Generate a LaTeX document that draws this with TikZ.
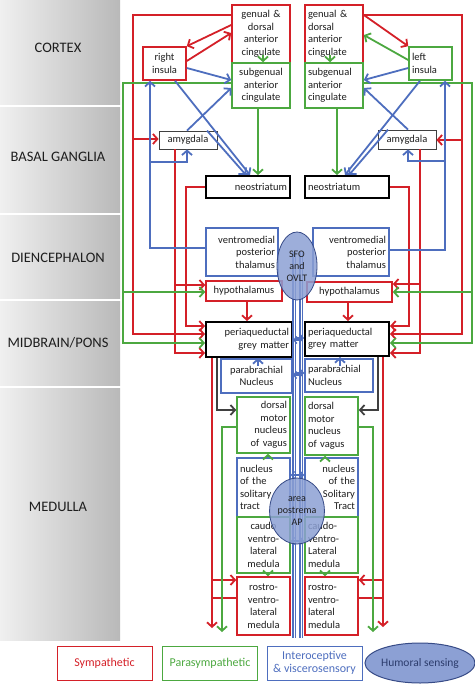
\documentclass[tikz,border=0pt]{standalone}
\usepackage{fontspec}
\setmainfont{Carlito}
\usetikzlibrary{arrows.meta,shapes.geometric}
\definecolor{colRed}{RGB}{212,32,40}
\definecolor{colGrn}{RGB}{76,168,64}
\definecolor{colBlu}{RGB}{78,110,190}
\definecolor{colDk}{RGB}{64,64,64}
\definecolor{colEl}{RGB}{140,160,212}
\definecolor{colEd}{RGB}{55,75,135}
\definecolor{colTxt}{RGB}{30,30,30}
\newcommand{\mkbox}[8]{%
 \pgfmathsetmacro\mbx{(#2+#4)/2}%
 \pgfmathsetmacro\mby{(#3+#5)/2}%
 \pgfmathsetmacro\mbw{#4-#2}%
 \pgfmathsetmacro\mbh{#5-#3}%
 \pgfmathsetmacro\mbt{#4-#2-6}%
 \node[bx,#6,minimum width=\mbw pt,minimum height=\mbh pt,text width=\mbt pt,align=#7] (#1) at (\mbx,\mby) {#8};}
\begin{document}
\begin{tikzpicture}[x=1pt,y=-1pt,
  >={Straight Barb[length=4.5pt,width=10pt]},
  bx/.style={draw,fill=white,line width=1.6pt,inner xsep=3pt,inner ysep=0pt,text=colTxt,font=\fontsize{10.5}{12.5}\selectfont},
  ln/.style={line width=1.8pt,->},
  rd/.style={ln,draw=colRed},
  gn/.style={ln,draw=colGrn},
  bl/.style={ln,draw=colBlu},
  gy/.style={ln,draw=colDk},
  sm/.style={line width=1.3pt,draw=colBlu,->,>={Straight Barb[length=3pt,width=7pt]}},
  cen/.style={draw=colBlu,line width=1.4pt,double=white,double distance=0.8pt},
  band/.style={left color=gray!12,right color=gray!55,draw=none},
  blab/.style={font=\fontsize{14.5}{16}\selectfont,text=colTxt},
  leg/.style={draw,line width=1pt,minimum width=95pt,minimum height=34pt,align=center,font=\fontsize{12}{13.5}\selectfont}
]
\useasboundingbox (0,0) rectangle (474,687);
% bands
\foreach \ya/\yb in {0/105,108/212,215/298,301/385,388/640}{
  \shade[band] (0,\ya) rectangle (120,\yb);
}
\node[blab] (lc) at (58,48) {CORTEX};
\node[blab] (lb) at (58,157) {BASAL GANGLIA};
\node[blab] (ld) at (58,258) {DIENCEPHALON};
\node[blab] (lm) at (58,343) {MIDBRAIN/PONS};
\node[blab] (lmd) at (58,507) {MEDULLA};

% boxes
\mkbox{gL}{232}{5}{290}{63}{draw=colRed}{center}{genual \&\\dorsal\\anterior\\cingulate}
\mkbox{sL}{232}{63}{290}{108}{draw=colGrn}{center}{subgenual\\anterior\\cingulate}
\mkbox{iR}{143}{47}{186}{80}{draw=colRed}{center}{right\\insula}
\mkbox{gR}{305}{5}{363}{63}{draw=colRed}{left}{genual \&\\dorsal\\anterior\\cingulate}
\mkbox{sR}{305}{63}{363}{108}{draw=colGrn}{left}{subgenual\\anterior\\cingulate}
\mkbox{iL}{409}{47}{452}{80}{draw=colGrn}{left}{left\\insula}
\mkbox{aL}{159}{131}{217}{149}{draw=colDk,line width=0.8pt}{center}{amygdala}
\mkbox{aR}{378}{130}{436}{149}{draw=colDk,line width=0.8pt}{center}{amygdala}
\mkbox{nL}{206}{176}{290}{198}{draw=black,line width=2pt}{right}{neostriatum}
\mkbox{nR}{305}{176}{389}{198}{draw=black,line width=2pt}{left}{neostriatum}
\mkbox{tL}{206}{228}{278}{276}{draw=colBlu}{right}{ventromedial\\posterior\\thalamus}
\mkbox{tR}{313}{228}{389}{276}{draw=colBlu}{right}{ventromedial\\posterior\\thalamus}
\mkbox{hL}{206}{281}{282}{301}{draw=colRed}{center}{hypothalamus}
\mkbox{hR}{307}{282}{392}{302}{draw=colRed}{center}{hypothalamus}
\mkbox{pL}{206}{322}{292}{357}{draw=black,line width=2pt}{right}{periaqueductal\\grey matter}
\mkbox{pR}{305}{322}{389}{356}{draw=black,line width=2pt}{left}{periaqueductal\\grey matter}
\mkbox{bL}{221}{359}{292}{393}{draw=colBlu}{center}{parabrachial\\Nucleus}
\mkbox{bR}{305}{359}{373}{392}{draw=colBlu}{left}{parabrachial\\Nucleus}
\mkbox{dL}{237}{397}{290}{453}{draw=colGrn}{right}{dorsal\\motor\\nucleus\\of vagus}
\mkbox{dR}{305}{397}{358}{455}{draw=colGrn}{left}{dorsal\\motor\\nucleus\\of vagus}
\mkbox{nsL}{237}{458}{290}{517}{draw=colBlu}{left}{nucleus\\of the\\solitary\\tract}
\mkbox{nsR}{305}{458}{358}{517}{draw=colBlu}{right}{nucleus\\of the\\Solitary\\Tract}
\mkbox{cL}{237}{517}{290}{573}{draw=colGrn}{center}{caudo\\ventro-\\lateral\\medula}
\mkbox{cR}{305}{517}{358}{573}{draw=colGrn}{left}{caudo-\\ventro-\\Lateral\\medula}
\mkbox{rL}{237}{577}{290}{635}{draw=colRed}{center}{rostro-\\ventro-\\lateral\\medula}
\mkbox{rR}{305}{577}{358}{635}{draw=colRed}{left}{rostro-\\ventro-\\lateral\\medula}

% central blue lines
\coordinate (cb1) at (294,638);
\coordinate (ct1) at (294,252);
\coordinate (cb2) at (301,638);
\coordinate (ct2) at (301,252);
\draw[cen] (cb1) -- (ct1);
\draw[cen] (cb2) -- (ct2);

% red (sympathetic)
\draw[rd] (gL.west |- 0,15) -| (133,334) -- (pL.west |- 0,334);
\draw[rd] (133,139) -- (aL.west |- 0,139);
\draw[rd] (gL.west |- 0,25) -- (iR.north east);
\draw[rd] (iR.east |- 0,61) -- (gL.west |- 0,33);
\draw[rd] (aL.south -| 175,0) -- (175,353) -- (pL.west |- 0,353);
\draw[rd] (175,285) -- (hL.west |- 0,285);
\draw[rd] (nL.west |- 0,187) -| (186,326) -- (pL.west |- 0,326);
\draw[rd] (hL.south -| 247,0) -- (pL.north -| 247,0);
\draw[rd] (pL.south -| 212,0) -- (212,628);
\draw[rd] (212,580) -- (rL.west |- 0,580);
\draw[rd,-] (rL.west |- 0,598) -- (212,598);

\draw[rd] (gR.east |- 0,15) -| (462,334) -- (pR.east |- 0,334);
\draw[rd] (462,140) -- (aR.east |- 0,140);
\draw[rd] (gR.east |- 0,15) -- (iL.north west);
\draw[rd] (aR.south -| 420,0) -- (420,353) -- (pR.east |- 0,353);
\draw[rd] (420,284) -- (hR.east |- 0,284);
\draw[rd] (nR.east |- 0,187) -| (409,326) -- (pR.east |- 0,326);
\draw[rd] (hR.south -| 348,0) -- (pR.north -| 348,0);
\draw[rd] (pR.south -| 383,0) -- (383,627);
\draw[rd] (383,580) -- (rR.east |- 0,580);
\draw[rd,-] (rR.east |- 0,598) -- (383,598);

% green (parasympathetic)
\draw[gn] (sL.west |- 0,83) -| (123,343) -- (pL.west |- 0,343);
\draw[gn] (123,292) -- (hL.west |- 0,292);
\draw[gn] (sL.south -| 258,0) -- (nL.north -| 258,0);
\draw[gn] (263,55) -- (sL.north -| 263,0);
\draw[gn] (dL.west |- 0,427) -| (222,632);
\draw[gn] (nsL.north -| 268,0) -- (dL.south -| 268,0);
\draw[gn] (cL.south -| 268,0) -- (rL.north -| 268,0);

\draw[gn] (sR.east |- 0,83) -| (472,343) -- (pR.east |- 0,343);
\draw[gn] (472,292) -- (hR.east |- 0,292);
\draw[gn] (sR.south -| 337,0) -- (nR.north -| 337,0);
\draw[gn] (330,55) -- (sR.north -| 330,0);
\draw[gn] (iL.west |- 0,60) -- (gR.east |- 0,35);
\draw[gn] (dR.east |- 0,427) -| (373,632);
\draw[gn] (nsR.north -| 325,0) -- (dR.south -| 325,0);
\draw[gn] (cR.south -| 325,0) -- (rR.north -| 325,0);

% blue (interoceptive)
\draw[bl] (tL.west |- 0,248) -| (iR.south -| 150,0);
\draw[bl] (150,162) -| (aL.south -| 187,0);
\draw[bl] (iR.east |- 0,68) -- (sL.west |- 0,80);
\draw[bl] (aL.north -| 187,0) -- (sL.west |- 0,88);
\draw[bl] (iR.south -| 175,0) -- (nL.north -| 250,0);
\draw[bl] (aL.north -| 207,0) -- (nL.north -| 246,0);

\draw[bl] (tR.east |- 0,250) -| (iL.south -| 445,0);
\draw[bl] (445,161) -| (aR.south -| 408,0);
\draw[bl] (iL.west |- 0,68) -- (sR.east |- 0,80);
\draw[bl] (aR.north -| 408,0) -- (sR.east |- 0,88);
\draw[bl] (iL.south -| 420,0) -- (nR.north -| 345,0);
\draw[bl] (aR.north -| 388,0) -- (nR.north -| 349,0);

\draw[bl] (258,366) -- (pL.south -| 258,0);
\draw[bl] (340,366) -- (pR.south -| 340,0);

\draw[sm] (300,340) -- (pL.east |- 0,340);
\draw[sm] (300,375) -- (bL.east |- 0,375);
\draw[sm] (298,475) -- (nsL.east |- 0,475);
\draw[sm] (298,541) -- (cL.east |- 0,541);
\draw[sm] (295,338) -- (pR.west |- 0,338);
\draw[sm] (295,373) -- (bR.west |- 0,373);
\draw[sm] (295,475) -- (nsR.west |- 0,475);
\draw[sm] (295,541) -- (cR.west |- 0,541);

% grey
\draw[gy] (pL.south -| 217,0) |- (dL.west |- 0,410);
\draw[gy] (pR.south -| 378,0) |- (dR.east |- 0,410);

% ellipses
\node[ellipse,draw=colEd,fill=colEl,fill opacity=0.85,text opacity=1,line width=0.8pt,minimum width=40pt,minimum height=68pt,inner sep=0pt,align=center,text=colTxt,font=\fontsize{10}{12}\selectfont] (sfo) at (297,266) {SFO\\and\\OVLT};
\node[ellipse,draw=colEd,fill=colEl,fill opacity=0.85,text opacity=1,line width=0.8pt,minimum width=40pt,minimum height=66pt,inner sep=0pt,align=center,text=colTxt,font=\fontsize{10}{12}\selectfont] (ap) at (297,511) {area\\postrema\\AP};

% legend
\node[leg,draw=colRed,text=colRed] (lgS) at (104.5,663) {Sympathetic};
\node[leg,draw=colGrn,text=colGrn] (lgP) at (210,663) {Parasympathetic};
\node[leg,draw=colBlu,text=colBlu] (lgI) at (314.5,663) {Interoceptive\\\& viscerosensory};
\node[ellipse,draw=colEd,fill=colEl,line width=1pt,minimum width=86pt,minimum height=40pt,inner sep=0pt,text=colEd!80!black,font=\fontsize{11.5}{13}\selectfont] (lgH) at (420,663) {Humoral sensing};
\end{tikzpicture}
\end{document}
